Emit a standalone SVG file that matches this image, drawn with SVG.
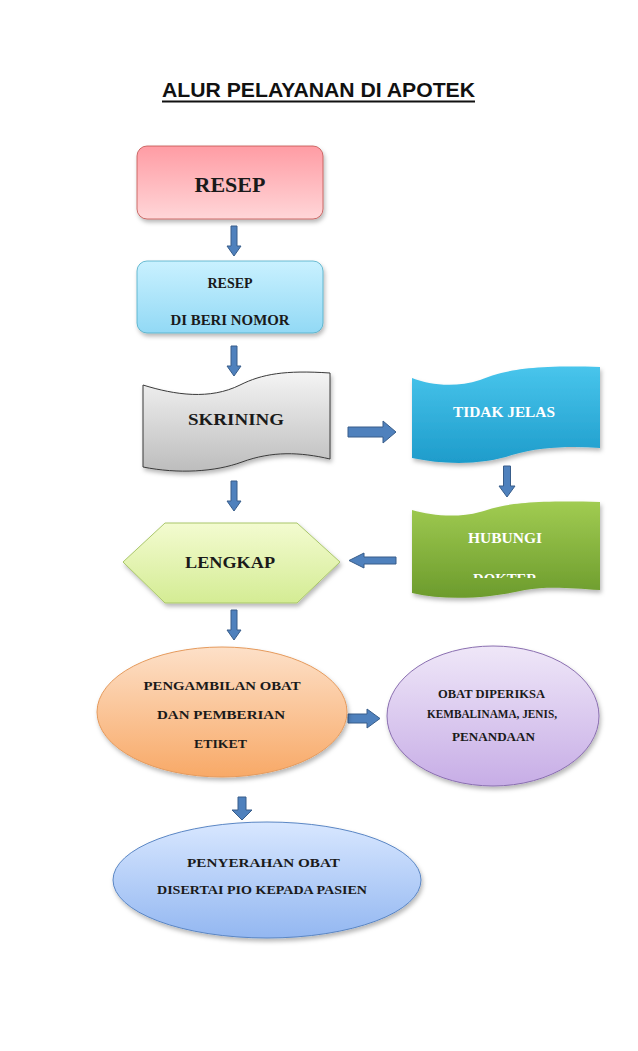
<svg xmlns="http://www.w3.org/2000/svg" width="638" height="1051" viewBox="0 0 638 1051">
<style>
.t{font-family:"Liberation Serif",serif;font-weight:bold;fill:#1a1a1a;text-anchor:middle}
.w{fill:#ffffff}
.arr{fill:#4f81bd;stroke:#385d8a;stroke-width:1}
.title{font-family:"Liberation Sans",sans-serif;font-size:21px;font-weight:bold;fill:#111;text-anchor:middle}
</style>
<defs>
<filter id="sh" x="-10%" y="-10%" width="125%" height="130%"><feDropShadow dx="1.5" dy="3" stdDeviation="2" flood-color="#000" flood-opacity="0.28"/></filter>
<linearGradient id="gPink" x1="0" y1="0" x2="0" y2="1"><stop offset="0" stop-color="#ff9ca4"/><stop offset="1" stop-color="#ffd6d8"/></linearGradient>
<linearGradient id="gCyan" x1="0" y1="0" x2="0" y2="1"><stop offset="0" stop-color="#c9f1ff"/><stop offset="1" stop-color="#92d9f5"/></linearGradient>
<linearGradient id="gGray" x1="0" y1="0" x2="0" y2="1"><stop offset="0" stop-color="#f4f4f4"/><stop offset="1" stop-color="#bdbdbd"/></linearGradient>
<linearGradient id="gBlue2" x1="0" y1="0" x2="0" y2="1"><stop offset="0" stop-color="#48c5ec"/><stop offset="1" stop-color="#1e9ccb"/></linearGradient>
<linearGradient id="gGreen" x1="0" y1="0" x2="0" y2="1"><stop offset="0" stop-color="#a1cc52"/><stop offset="1" stop-color="#6c9b2c"/></linearGradient>
<linearGradient id="gLime" x1="0" y1="0" x2="0" y2="1"><stop offset="0" stop-color="#f3fbd0"/><stop offset="1" stop-color="#d4ec94"/></linearGradient>
<linearGradient id="gOrange" x1="0" y1="0" x2="0" y2="1"><stop offset="0" stop-color="#fde0c8"/><stop offset="1" stop-color="#f8a967"/></linearGradient>
<linearGradient id="gPurple" x1="0" y1="0" x2="0" y2="1"><stop offset="0" stop-color="#efe7f8"/><stop offset="1" stop-color="#c7ade6"/></linearGradient>
<linearGradient id="gSky" x1="0" y1="0" x2="0" y2="1"><stop offset="0" stop-color="#d8e7ff"/><stop offset="1" stop-color="#93b7f1"/></linearGradient>
<clipPath id="clipDok"><rect x="400" y="560" width="220" height="18"/></clipPath>
</defs>
<rect width="638" height="1051" fill="#ffffff"/>

<g id="title">
<text class="title" x="318.5" y="97" textLength="313" lengthAdjust="spacingAndGlyphs">ALUR PELAYANAN DI APOTEK</text>
<line x1="162" y1="101.5" x2="475" y2="101.5" stroke="#111" stroke-width="1.8"/>
</g>

<g id="connectors">
<path class="arr" d="M231,226 h6 v20 h4 l-7,10 l-7,-10 h4 z"/>
<path class="arr" d="M231,346 h6 v20 h4 l-7,10 l-7,-10 h4 z"/>
<path class="arr" d="M231,481 h6 v20 h4 l-7,10 l-7,-10 h4 z"/>
<path class="arr" d="M231,610 h6 v20 h4 l-7,10 l-7,-10 h4 z"/>
<path class="arr" d="M238,797 h8 v13 h6 l-10,10 l-10,-10 h6 z"/>
<path class="arr" d="M503.5,466 h7 v20 h4.5 l-8,11 l-8,-11 h4.5 z"/>
<path class="arr" d="M348,427 h35 v-6 l13,11 l-13,11 v-6 h-35 z"/>
<path class="arr" d="M396,557 h-32 v-4 l-15,7.5 l15,7.5 v-4 h32 z"/>
<path class="arr" d="M348,714 h19 v-5 l13,9.5 l-13,9.5 v-5 h-19 z"/>
</g>

<g id="n-resep">
<rect x="137" y="146" width="186" height="73" rx="10" fill="url(#gPink)" stroke="#c0504d" stroke-width="0.8" filter="url(#sh)"/>
<text class="t" x="230" y="192" font-size="22">RESEP</text>
</g>

<g id="n-nomor">
<rect x="137" y="261" width="186" height="72" rx="10" fill="url(#gCyan)" stroke="#4bacc6" stroke-width="0.8" filter="url(#sh)"/>
<text class="t" x="230" y="288" font-size="14">RESEP</text>
<text class="t" x="230" y="325" font-size="14" textLength="119" lengthAdjust="spacingAndGlyphs">DI BERI NOMOR</text>
</g>

<g id="n-skrining">
<path d="M143,385 C175,395 210,400 240,385 C262,374 285,370 330,373 L330,459 C300,452 272,451 242,462 C215,472 178,474 143,467 Z" fill="url(#gGray)" stroke="#3a3a3a" stroke-width="1" filter="url(#sh)"/>
<text class="t" x="236" y="425" font-size="17" textLength="96" lengthAdjust="spacingAndGlyphs">SKRINING</text>
</g>

<g id="n-tidak">
<path d="M412,378 C430,385 455,388 480,380 C505,370 530,365 600,367 L600,448 C570,446 540,447 512,455 C482,465 445,465 412,458 Z" fill="url(#gBlue2)" filter="url(#sh)"/>
<text class="t w" x="504" y="417" font-size="15" font-weight="normal" textLength="102" lengthAdjust="spacingAndGlyphs">TIDAK JELAS</text>
</g>

<g id="n-hubungi">
<path d="M412,510 C432,516 458,518 480,512 C502,505 520,500 600,502 L600,590 C570,588 548,586 525,590 C495,597 450,602 412,593 Z" fill="url(#gGreen)" filter="url(#sh)"/>
<text class="t w" x="505" y="543" font-size="14" font-weight="normal" textLength="74" lengthAdjust="spacingAndGlyphs">HUBUNGI</text>
<text class="t w" x="505" y="584" font-size="14" font-weight="normal" textLength="64" lengthAdjust="spacingAndGlyphs" clip-path="url(#clipDok)">DOKTER</text>
</g>

<g id="n-lengkap">
<path d="M123,562 L165,523 L297,523 L340,562 L297,603 L165,603 Z" fill="url(#gLime)" stroke="#a9c66a" stroke-width="1" filter="url(#sh)"/>
<text class="t" x="230" y="568" font-size="17" textLength="90" lengthAdjust="spacingAndGlyphs">LENGKAP</text>
</g>

<g id="n-pengambilan">
<ellipse cx="222" cy="712" rx="125" ry="65" fill="url(#gOrange)" stroke="#e59a5c" stroke-width="1" filter="url(#sh)"/>
<text class="t" x="222" y="690" font-size="13.5" textLength="157" lengthAdjust="spacingAndGlyphs">PENGAMBILAN OBAT</text>
<text class="t" x="221" y="719" font-size="13.5" textLength="128" lengthAdjust="spacingAndGlyphs">DAN PEMBERIAN</text>
<text class="t" x="220.5" y="748" font-size="13.5" textLength="53" lengthAdjust="spacingAndGlyphs">ETIKET</text>
</g>

<g id="n-diperiksa">
<ellipse cx="493" cy="716" rx="106" ry="70" fill="url(#gPurple)" stroke="#8a6fb0" stroke-width="1" filter="url(#sh)"/>
<text class="t" x="491.5" y="698" font-size="12.5" textLength="107" lengthAdjust="spacingAndGlyphs">OBAT DIPERIKSA</text>
<text class="t" x="492" y="718" font-size="12.5" textLength="130" lengthAdjust="spacingAndGlyphs">KEMBALINAMA, JENIS,</text>
<text class="t" x="493.5" y="741" font-size="12.5" textLength="83" lengthAdjust="spacingAndGlyphs">PENANDAAN</text>
</g>

<g id="n-penyerahan">
<ellipse cx="267" cy="880" rx="154" ry="58" fill="url(#gSky)" stroke="#5a86c4" stroke-width="1" filter="url(#sh)"/>
<text class="t" x="263.5" y="867" font-size="13.5" textLength="153" lengthAdjust="spacingAndGlyphs">PENYERAHAN OBAT</text>
<text class="t" x="262" y="894" font-size="13.5" textLength="210" lengthAdjust="spacingAndGlyphs">DISERTAI PIO KEPADA PASIEN</text>
</g>
</svg>
